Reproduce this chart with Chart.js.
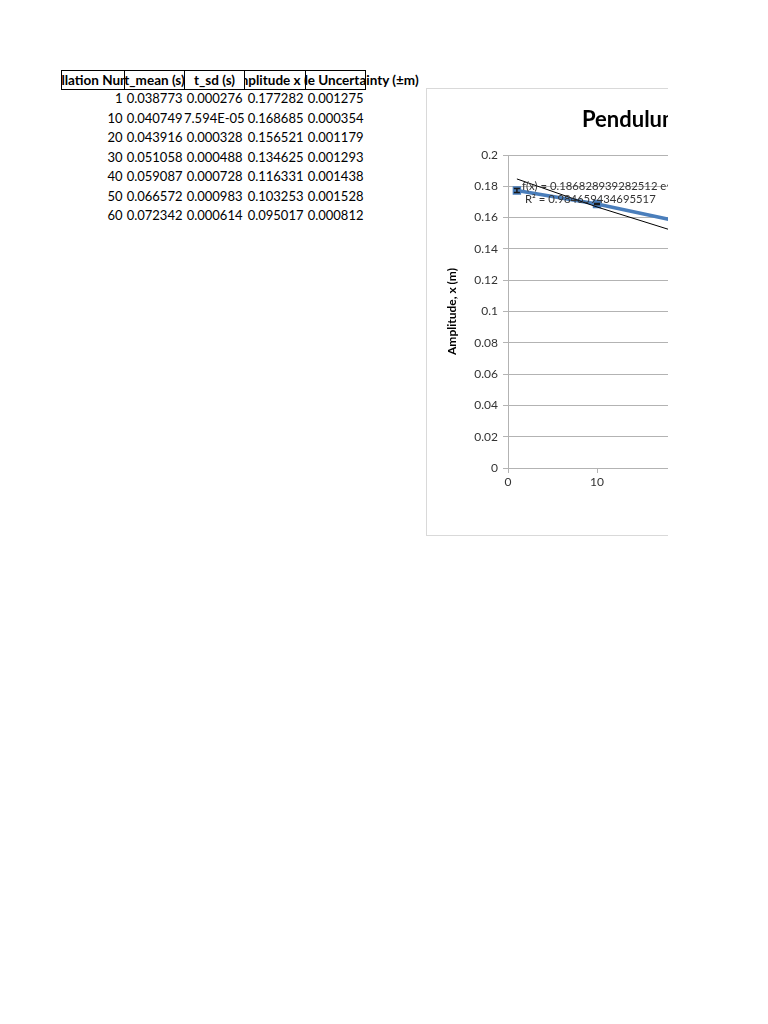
<!DOCTYPE html>
<html lang="en">
<head>
<meta charset="UTF-8">
<meta name="viewport" content="width=device-width, initial-scale=1.0">
<title>Pendulum Amplitude</title>
<script src="https://cdn.jsdelivr.net/npm/chart.js"></script>
<style>
    body { margin: 0; background: #fff; font-family: Lato, "Open Sans", sans-serif; color: #000; }
    .cell { position: absolute; box-sizing: border-box; font-size: 13px; white-space: nowrap; }
    .head { top: 70px; height: 20px; line-height: 18px; border: 1px solid #000; overflow: hidden; font-weight: bold; font-size: 13.5px; }
    .head span { position: absolute; left: 50%; transform: translateX(-50%); }
    .head.spill { overflow: visible; clip-path: inset(0 -200px 0 0); }
    .num { height: 19.5px; line-height: 19.5px; text-align: right; padding-right: 1.5px; }
    #chart-clip { position: absolute; left: 426px; top: 88px; width: 242px; height: 448px; overflow: hidden; }
    #chart-frame { position: absolute; left: 0; top: 0; width: 800px; height: 448px; box-sizing: border-box; border: 1px solid #d9d9d9; }
    #chart-box { position: absolute; left: 0; top: 0; width: 760px; height: 447px; }
</style>
</head>
<body>
    <div id="sheet"></div>
    <div id="chart-clip">
        <div id="chart-frame"></div>
        <div id="chart-box"><canvas id="ampChart"></canvas></div>
    </div>

<script>
    // spreadsheet values
    const headers = ['Oscillation Number', 't_mean (s)', 't_sd (s)', 'Amplitude x (m)', 'Amplitude Uncertainty (±m)'];
    const oscNumber = [1, 10, 20, 30, 40, 50, 60];
    const tMean = [0.038773, 0.040749, 0.043916, 0.051058, 0.059087, 0.066572, 0.072342];
    const tSd = [0.000276, 0.00007594, 0.000328, 0.000488, 0.000728, 0.000983, 0.000614];
    const amplitude = [0.177282, 0.168685, 0.156521, 0.134625, 0.116331, 0.103253, 0.095017];
    const amplitudeErr = [0.001275, 0.000354, 0.001179, 0.001293, 0.001438, 0.001528, 0.000812];

    // exponential trend line
    const trendX = [1, 10, 20, 30, 40, 50, 60];
    const trendY = [0.1847, 0.1668, 0.1490, 0.1330, 0.1188, 0.1061, 0.0948];
    const trendText = ['f(x) = 0.186828939282512 e^( -0.0113 x )', 'R² = 0.984659434695517'];

    const chartTitle = 'Pendulum Amplitude vs Oscillation Number';
    const xTitle = 'Oscillation Number';
    const yTitle = 'Amplitude, x (m)';

    const colEdges = [61, 124, 184, 244, 305, 365];

    function fmtGeneral(v) {
        if (v !== 0 && Math.abs(v) < 1e-4) {
            let [m, e] = v.toExponential(3).split('e');
            return m + 'E' + (e[0] === '-' ? '-' : '+') + e.slice(1).padStart(2, '0');
        }
        return String(v);
    }

    function buildSheet() {
        let sheet = document.getElementById('sheet');
        headers.forEach((h, i) => {
            let div = document.createElement('div');
            div.className = 'cell head' + (i === headers.length - 1 ? ' spill' : '');
            div.style.left = colEdges[i] + 'px';
            div.style.width = (colEdges[i + 1] - colEdges[i] + 1) + 'px';
            let span = document.createElement('span');
            span.textContent = h;
            div.appendChild(span);
            sheet.appendChild(div);
        });

        let columns = [oscNumber, tMean, tSd, amplitude, amplitudeErr];
        oscNumber.forEach((_, r) => {
            columns.forEach((col, c) => {
                let div = document.createElement('div');
                div.className = 'cell num';
                div.style.left = colEdges[c] + 'px';
                div.style.width = (colEdges[c + 1] - colEdges[c]) + 'px';
                div.style.top = (89 + r * 19.5) + 'px';
                div.textContent = fmtGeneral(col[r]);
                sheet.appendChild(div);
            });
        });
    }

    const titleAt = {
        id: 'titleAt',
        afterDraw(chart) {
            let ctx = chart.ctx;
            ctx.save();
            ctx.font = 'bold 22px Lato';
            ctx.fillStyle = '#000';
            ctx.textAlign = 'left';
            ctx.textBaseline = 'alphabetic';
            ctx.fillText(chartTitle, 156, 39);
            ctx.restore();
        }
    };

    const errorBars = {
        id: 'errorBars',
        afterDatasetsDraw(chart) {
            let { ctx, chartArea, scales: { x, y } } = chart;
            ctx.save();
            ctx.strokeStyle = '#1a1a1a';
            ctx.lineWidth = 1.5;
            oscNumber.forEach((n, i) => {
                let px = x.getPixelForValue(n);
                let top = y.getPixelForValue(amplitude[i] + amplitudeErr[i]);
                let bot = y.getPixelForValue(amplitude[i] - amplitudeErr[i]);
                ctx.beginPath();
                ctx.moveTo(px, top); ctx.lineTo(px, bot);
                ctx.moveTo(px - 3, top); ctx.lineTo(px + 3, top);
                ctx.moveTo(px - 3, bot); ctx.lineTo(px + 3, bot);
                ctx.stroke();
            });

            // trend line equation
            ctx.font = '11.3px Lato';
            ctx.fillStyle = '#333';
            ctx.textAlign = 'left';
            ctx.textBaseline = 'alphabetic';
            ctx.fillText(trendText[0], chartArea.left + 14, chartArea.top + 34.5);
            ctx.fillText(trendText[1], chartArea.left + 17, chartArea.top + 48);
            ctx.restore();
        }
    };

    function initializeChart() {
        Chart.defaults.font.family = 'Lato';
        Chart.defaults.color = '#333';

        let ctx = document.getElementById('ampChart').getContext('2d');
        let gridGrey = '#b3b3b3';
        let seriesBlue = '#4a7ebb';

        new Chart(ctx, {
            type: 'scatter',
            data: {
                datasets: [
                    {
                        label: 'Amplitude',
                        data: oscNumber.map((n, i) => ({ x: n, y: amplitude[i] })),
                        showLine: true,
                        borderColor: seriesBlue,
                        backgroundColor: seriesBlue,
                        borderWidth: 3.5,
                        pointStyle: 'rect',
                        pointRadius: 3.5,
                        order: 1
                    },
                    {
                        label: 'Exponential trend',
                        data: trendX.map((n, i) => ({ x: n, y: trendY[i] })),
                        showLine: true,
                        borderColor: '#000',
                        borderWidth: 1,
                        pointRadius: 0,
                        order: 0
                    }
                ]
            },
            options: {
                responsive: true,
                maintainAspectRatio: false,
                animation: false,
                layout: { padding: { left: 15, top: 67, right: 55, bottom: 0 } },
                plugins: {
                    legend: { display: false },
                    tooltip: { enabled: false }
                },
                scales: {
                    x: {
                        type: 'linear',
                        min: 0,
                        max: 70,
                        ticks: { stepSize: 10, padding: 2, font: { size: 12 } },
                        grid: { drawOnChartArea: false, tickLength: 5, color: gridGrey },
                        border: { color: gridGrey },
                        title: { display: true, text: xTitle, color: '#000', font: { size: 12, weight: 'bold' } },
                        afterFit: s => { s.height = 67; }
                    },
                    y: {
                        min: 0,
                        max: 0.2,
                        ticks: {
                            stepSize: 0.02,
                            padding: 5,
                            font: { size: 12 },
                            callback: v => String(+v.toFixed(2))
                        },
                        grid: { color: gridGrey, tickLength: 5 },
                        border: { color: gridGrey },
                        title: { display: true, text: yTitle, color: '#000', font: { size: 12, weight: 'bold' } },
                        afterFit: s => { s.width = 67; }
                    }
                }
            },
            plugins: [titleAt, errorBars]
        });
    }

    buildSheet();
    initializeChart();
</script>
</body>
</html>
